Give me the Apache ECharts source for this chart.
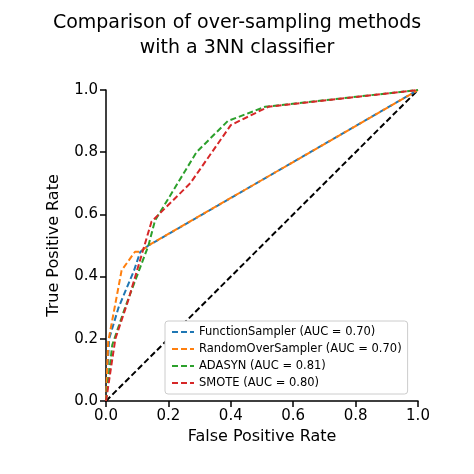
<!DOCTYPE html>
<html><head><meta charset="utf-8">
<script src="https://cdn.jsdelivr.net/npm/echarts@6/dist/echarts.min.js"></script>
<style>html,body{margin:0;padding:0;background:#fff}#c{width:474px;height:474px}</style>
</head><body><div id="c"></div>
<script>
var names = ['FunctionSampler (AUC = 0.70)', 'RandomOverSampler (AUC = 0.70)', 'ADASYN (AUC = 0.81)', 'SMOTE (AUC = 0.80)'];
var colors = ['#1f77b4', '#ff7f0e', '#2ca02c', '#d62728'];
var functionSampler = [[0,0],[0.01,0.2],[0.04,0.3],[0.09,0.42],[0.11,0.48],[0.136,0.5],[1,1]];
var randomOver = [[0,0],[0.007,0.19],[0.05,0.42],[0.093,0.48],[0.11,0.48],[0.136,0.5],[1,1]];
var adasyn = [[0,0],[0.02,0.18],[0.061,0.3],[0.136,0.5],[0.157,0.58],[0.29,0.8],[0.39,0.9],[0.51,0.946],[1,1]];
var smote = [[0,0],[0.03,0.2],[0.07,0.32],[0.146,0.577],[0.27,0.7],[0.4,0.887],[0.52,0.946],[1,1]];
var chance = [[0,0],[1,1]];
var seriesData = [functionSampler, randomOver, adasyn, smote];
var font = 'DejaVu Sans';

var chart = echarts.init(document.getElementById('c'));
var series = seriesData.map(function (d, i) {
  return { name: names[i], type: 'line', data: d, symbol: 'none', z: 3 + i,
    lineStyle: { color: colors[i], width: 2, type: [6, 3] }, itemStyle: { color: colors[i] } };
});
series.push({ type: 'line', data: chance, symbol: 'none', z: 2,
  lineStyle: { color: '#000', width: 2, type: [6, 3] } });
var axisCommon = {
  min: 0, max: 1, interval: 0.2,
  axisLine: { lineStyle: { color: '#000', width: 1.5 } },
  axisTick: { length: 6, lineStyle: { color: '#000', width: 1.5 } },
  axisLabel: { color: '#000', fontSize: 15, fontFamily: font, formatter: function (v) { return v.toFixed(1); } },
  splitLine: { show: false },
  nameLocation: 'middle',
  nameTextStyle: { color: '#000', fontSize: 16, fontFamily: font }
};
chart.setOption({
  animation: false,
  title: { text: 'Comparison of over-sampling methods\nwith a 3NN classifier', left: 'center', top: 6,
    textStyle: { fontSize: 19, fontWeight: 'normal', color: '#000', lineHeight: 25, fontFamily: font } },
  legend: {
    data: names, orient: 'vertical', left: 165, bottom: 80,
    itemWidth: 22, itemHeight: 2, itemGap: 5,
    textStyle: { fontSize: 11.5, color: '#000', fontFamily: font },
    backgroundColor: '#fff', borderColor: '#ccc', borderWidth: 1, borderRadius: 3, padding: [5, 6]
  },
  grid: { left: 106, right: 56, top: 90, bottom: 73 },
  xAxis: Object.assign({ type: 'value', name: 'False Positive Rate', nameGap: 26 }, axisCommon),
  yAxis: Object.assign({ type: 'value', name: 'True Positive Rate', nameGap: 44 }, axisCommon),
  series: series
});
</script></body></html>
